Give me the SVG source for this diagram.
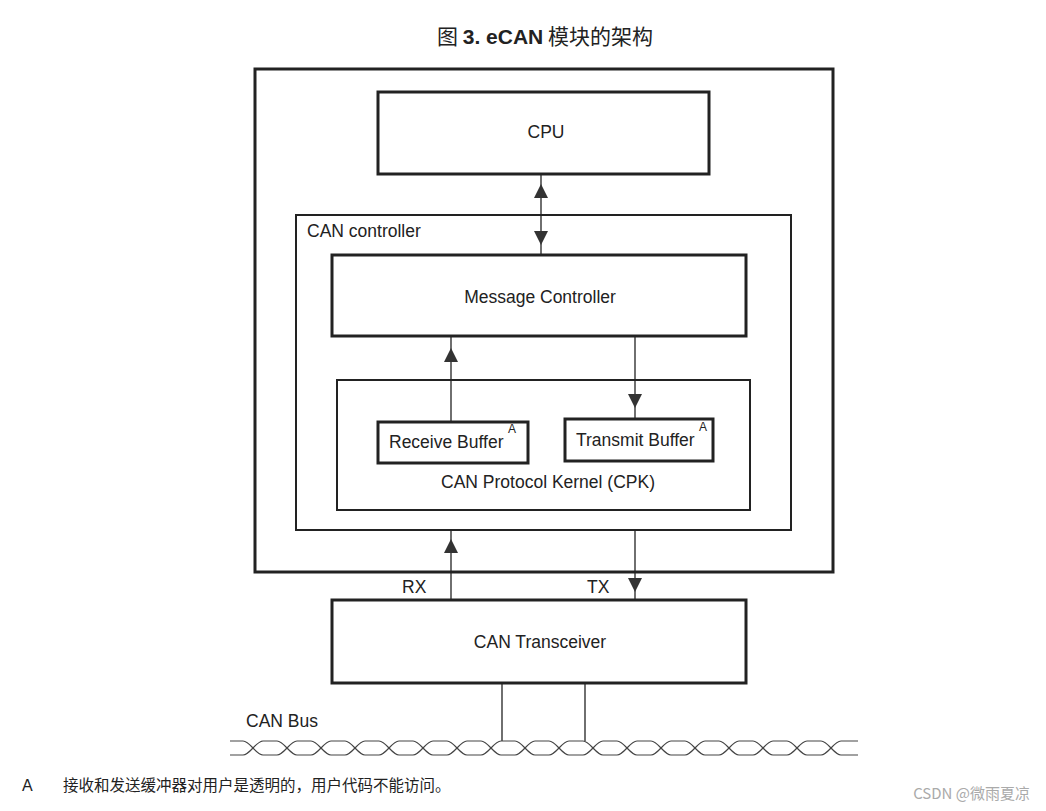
<svg xmlns="http://www.w3.org/2000/svg" width="1046" height="811" viewBox="0 0 1046 811">
<style>
text{font-family:"Liberation Sans",Arial,"Noto Sans CJK SC",sans-serif;fill:#222}
.b{fill:none;stroke:#222;stroke-width:3}
.t{fill:none;stroke:#222;stroke-width:2}
.c{stroke:#222;stroke-width:1.3;fill:none}
.w{stroke:#444;stroke-width:1.2;fill:none}
.ah{fill:#333}
</style>
<rect width="1046" height="811" fill="#fff"/>
<text x="545" y="44" font-size="21" text-anchor="middle"><tspan font-family="Noto Sans CJK SC,sans-serif">图 </tspan><tspan font-weight="bold">3. eCAN</tspan><tspan font-family="Noto Sans CJK SC,sans-serif"> 模块的架构</tspan></text>
<g id="outer"><rect class="b" x="255" y="69" width="578" height="503"/></g>
<g id="cpu"><rect class="b" x="378" y="92" width="331" height="82"/><text x="546" y="138" font-size="17.5" text-anchor="middle">CPU</text></g>
<g id="cancontroller"><rect class="t" x="296" y="215" width="495" height="315"/><text x="307" y="237" font-size="17.5">CAN controller</text></g>
<g id="msg"><rect class="b" x="332" y="255" width="414" height="81"/><text x="540" y="303" font-size="17.5" text-anchor="middle">Message Controller</text></g>
<g id="cpk"><rect class="t" x="337" y="380" width="413" height="130"/><text x="548" y="488" font-size="17.5" text-anchor="middle">CAN Protocol Kernel (CPK)</text></g>
<g id="rx"><rect class="b" x="378" y="422" width="150" height="41"/><text x="389" y="448" font-size="17.5">Receive Buffer</text><text x="508" y="433" font-size="12">A</text></g>
<g id="tx"><rect class="b" x="565" y="419" width="148" height="42"/><text x="576" y="446" font-size="17.5">Transmit Buffer</text><text x="699" y="431" font-size="12">A</text></g>
<g id="trans"><rect class="b" x="332" y="600" width="414" height="83"/><text x="540" y="648" font-size="17.5" text-anchor="middle">CAN Transceiver</text></g>
<g id="connectors">
<line class="c" x1="541" y1="175" x2="541" y2="254"/>
<polygon class="ah" points="541,184 534,198 548,198"/>
<polygon class="ah" points="541,245 534,231 548,231"/>
<line class="c" x1="451" y1="337" x2="451" y2="421"/>
<polygon class="ah" points="451,348 444,362 458,362"/>
<line class="c" x1="635" y1="337" x2="635" y2="418"/>
<polygon class="ah" points="635,408 628,394 642,394"/>
<line class="c" x1="451" y1="531" x2="451" y2="599"/>
<polygon class="ah" points="451,539 444,553 458,553"/>
<line class="c" x1="635" y1="531" x2="635" y2="599"/>
<polygon class="ah" points="635,592 628,578 642,578"/>
<line class="c" x1="502" y1="684" x2="502" y2="741"/>
<line class="c" x1="585" y1="684" x2="585" y2="741"/>
</g>
<text x="402" y="593" font-size="17.5">RX</text>
<text x="587" y="593" font-size="17.5">TX</text>
<text x="246" y="727" font-size="17.5">CAN Bus</text>
<g id="bus">
<path class="w" d="M230,741 H243 C250,741 256,755 263,755 H277 C284,755 290,741 297,741 H311 C318,741 324,755 331,755 H345 C352,755 358,741 365,741 H379 C386,741 392,755 399,755 H413 C420,755 426,741 433,741 H447 C454,741 460,755 467,755 H481 C488,755 494,741 501,741 H515 C522,741 528,755 535,755 H549 C556,755 562,741 569,741 H583 C590,741 596,755 603,755 H617 C624,755 630,741 637,741 H651 C658,741 664,755 671,755 H685 C692,755 698,741 705,741 H719 C726,741 732,755 739,755 H753 C760,755 766,741 773,741 H787 C794,741 800,755 807,755 H821 C828,755 834,741 841,741 H858"/>
<path class="w" d="M230,755 H243 C250,755 256,741 263,741 H277 C284,741 290,755 297,755 H311 C318,755 324,741 331,741 H345 C352,741 358,755 365,755 H379 C386,755 392,741 399,741 H413 C420,741 426,755 433,755 H447 C454,755 460,741 467,741 H481 C488,741 494,755 501,755 H515 C522,755 528,741 535,741 H549 C556,741 562,755 569,755 H583 C590,755 596,741 603,741 H617 C624,741 630,755 637,755 H651 C658,755 664,741 671,741 H685 C692,741 698,755 705,755 H719 C726,755 732,741 739,741 H753 C760,741 766,755 773,755 H787 C794,755 800,741 807,741 H821 C828,741 834,755 841,755 H858"/>
</g>
<text x="22" y="791" font-size="16">A</text>
<text x="63" y="791" font-size="15.5" style="font-family:'Noto Sans CJK SC',sans-serif">接收和发送缓冲器对用户是透明的，用户代码不能访问。</text>
<text x="1030" y="799" font-size="15" text-anchor="end" style="fill:#aaa;font-family:'Noto Sans CJK SC',sans-serif">CSDN @微雨夏凉</text>
</svg>
